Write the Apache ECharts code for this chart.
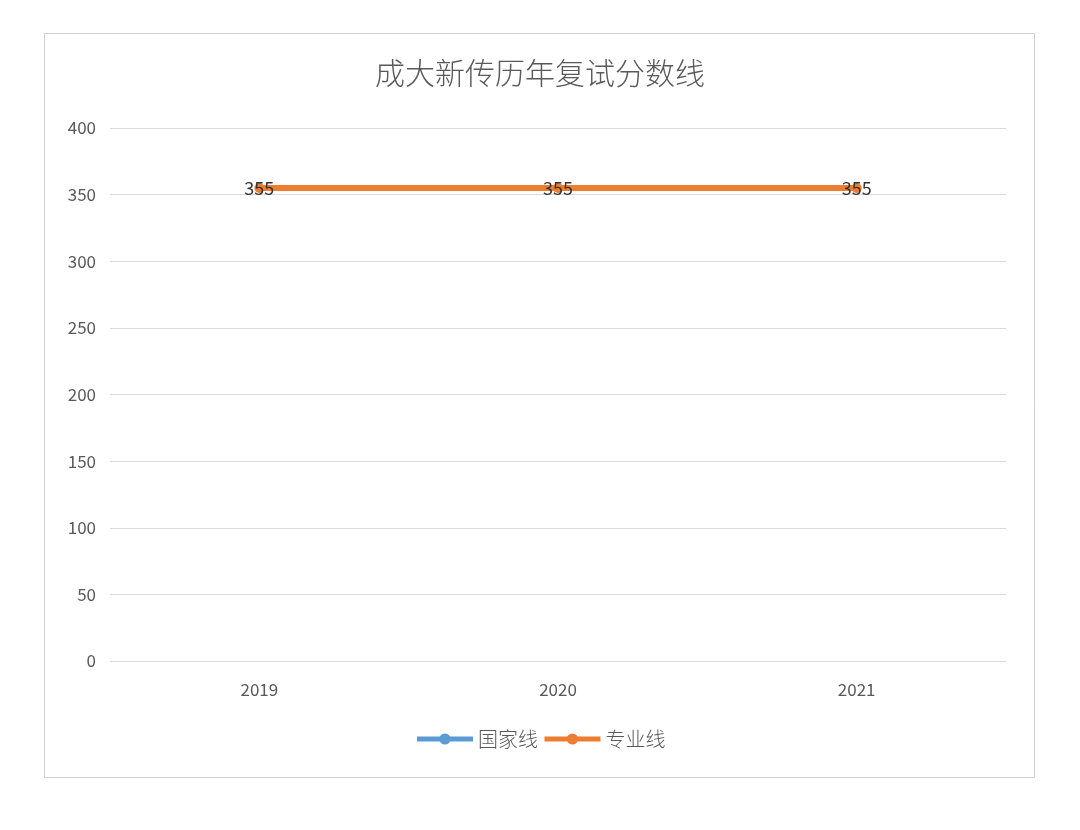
<!DOCTYPE html>
<html>
<head>
<meta charset="utf-8">
<script src="https://cdn.jsdelivr.net/npm/echarts@6/dist/echarts.min.js"></script>
<style>html,body{margin:0;padding:0;background:#fff;}#c{width:1080px;height:830px;}</style>
</head>
<body>
<div id="c"></div>
<script>
var categories = ['2019', '2020', '2021'];
var nationalLine = [null, null, null];
var majorLine = [355, 355, 355];
var yTicks = [0, 50, 100, 150, 200, 250, 300, 350, 400];

var chart = echarts.init(document.getElementById('c'));
var font = '"Noto Sans CJK SC", "Open Sans", sans-serif';
chart.setOption({
  backgroundColor: '#ffffff',
  animation: false,
  title: {
    text: '成大新传历年复试分数线',
    left: 'center',
    top: 53,
    textStyle: { fontFamily: font, fontSize: 30, fontWeight: 300, color: '#595959' }
  },
  graphic: [{
    type: 'rect',
    shape: { x: 44.5, y: 33.5, width: 990, height: 744 },
    style: { fill: 'none', stroke: '#d0d0d0', lineWidth: 1 },
    silent: true
  }],
  legend: {
    bottom: 76,
    left: 'center',
    itemWidth: 56,
    itemHeight: 14,
    itemGap: 4,
    lineStyle: { width: 5 },
    textStyle: { fontFamily: font, fontSize: 20, fontWeight: 300, color: '#595959' },
    data: ['国家线', '专业线']
  },
  grid: { left: 110, right: 74, top: 128, bottom: 169 },
  xAxis: {
    type: 'category',
    data: categories,
    boundaryGap: true,
    axisLine: { show: false },
    axisTick: { show: false },
    axisLabel: { margin: 20, fontFamily: font, fontSize: 17, color: '#595959' }
  },
  yAxis: {
    type: 'value',
    min: yTicks[0],
    max: yTicks[yTicks.length - 1],
    interval: 50,
    axisLine: { show: false },
    axisTick: { show: false },
    axisLabel: { margin: 14, fontFamily: font, fontSize: 17, color: '#595959' },
    splitLine: { lineStyle: { color: '#d9d9d9', width: 1 } }
  },
  series: [{
    name: '国家线',
    type: 'line',
    data: nationalLine,
    symbol: 'circle',
    symbolSize: 10,
    lineStyle: { width: 5, color: '#5B9BD5' },
    itemStyle: { color: '#5B9BD5' }
  }, {
    name: '专业线',
    type: 'line',
    data: majorLine,
    symbol: 'circle',
    symbolSize: 10,
    lineStyle: { width: 6, color: '#ED7D31' },
    itemStyle: { color: '#ED7D31' },
    label: {
      show: true,
      position: 'inside',
      fontFamily: font,
      fontSize: 18,
      color: '#333333'
    }
  }]
});
</script>
</body>
</html>
